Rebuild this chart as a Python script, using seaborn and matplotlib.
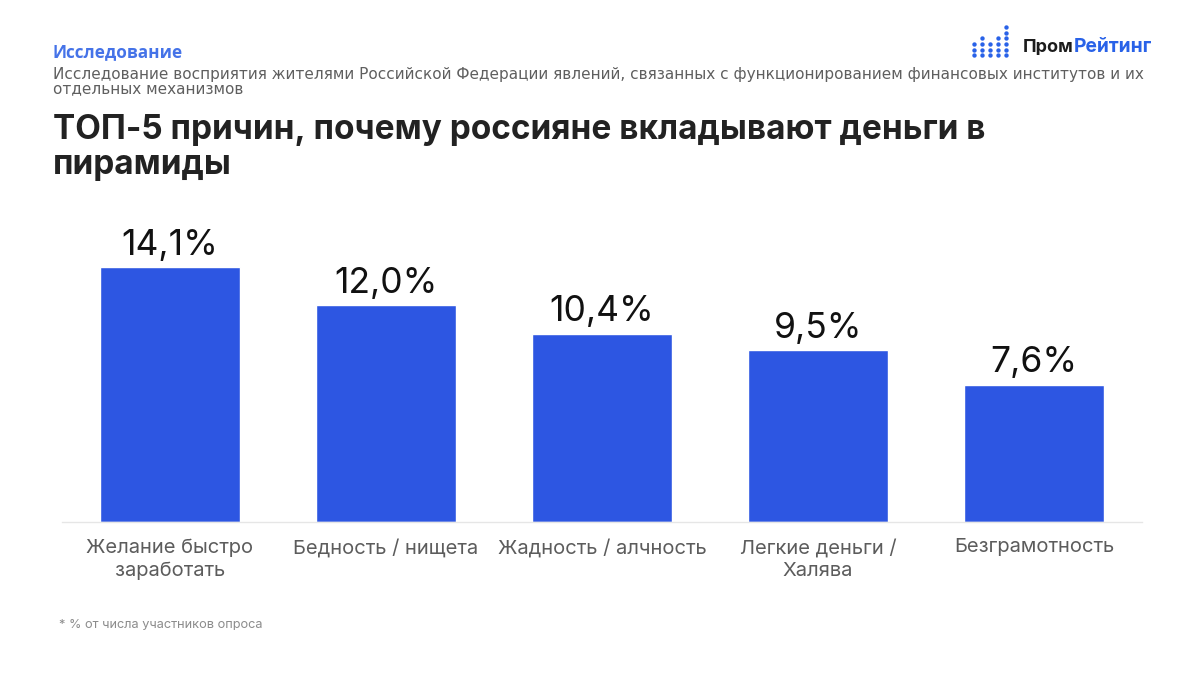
import matplotlib
matplotlib.use("Agg")
import matplotlib.pyplot as plt
import numpy as np
import pandas as pd
import seaborn as sns

categories = ["Желание быстро\nзаработать", "Бедность / нищета", "Жадность / алчность",
              "Легкие деньги /\nХалява", "Безграмотность"]
values = [14.1, 12.0, 10.4, 9.5, 7.6]
value_labels = ["14,1%", "12,0%", "10,4%", "9,5%", "7,6%"]
logo_columns = [3, 4, 3, 4, 6]

sns.set_theme(style="white")
plt.rcParams["font.family"] = ["Inter", "DejaVu Sans"]

W, H = 1200, 675
fig = plt.figure(figsize=(12, 6.75), dpi=100, facecolor="white")
ax = fig.add_axes([62 / W, 1 - 521.6 / H, 1080 / W, 324.6 / H])

df = pd.DataFrame({"cat": categories, "val": values})
sns.barplot(data=df, x="cat", y="val", color="#2D56E2", saturation=1, width=0.645, ax=ax)
ax.set_xlim(-0.5, 4.5)
ax.set_ylim(0, 18)
ax.set_xlabel("")
ax.set_ylabel("")
ax.set_yticks([])
for s in ["top", "left", "right"]:
    ax.spines[s].set_visible(False)
ax.spines["bottom"].set_color("#E6E6E6")
ax.spines["bottom"].set_linewidth(1)
ax.tick_params(axis="x", length=0, pad=12, labelsize=14.5, labelcolor="#5C5C5C")
for t in ax.get_xticklabels():
    t.set_linespacing(1.35)
ax.bar_label(ax.containers[0], labels=value_labels, fontsize=25.5, color="#111111", padding=4)

def txt(x, y, s, **kw):
    fig.text(x / W, 1 - y / H, s, va="baseline", ha=kw.pop("ha", "left"), **kw)

txt(53, 57.5, "Исследование", fontsize=12.3, fontweight="bold", color="#4573E8",
    family=["Open Sans", "DejaVu Sans"])
sub = dict(fontsize=11, color="#5F5F5F", family=["DejaVu Sans"])
txt(53, 79, "Исследование восприятия жителями Российской Федерации явлений, связанных с функционированием финансовых институтов и их", **sub)
txt(53, 93, "отдельных механизмов", **sub)
txt(53, 139, "ТОП-5 причин, почему россияне вкладывают деньги в", fontsize=24, fontweight="bold", color="#222222")
txt(53, 174, "пирамиды", fontsize=24, fontweight="bold", color="#222222")
txt(59, 628, "* % от числа участников опроса", fontsize=9.2, color="#8C8C8C")

# logo
lax = fig.add_axes([970 / W, 1 - 58 / H, 40 / W, 33.6 / H])
lax.set_axis_off()
for i, n in enumerate(logo_columns):
    lax.scatter([i] * n, np.arange(n), s=10, color="#2962E8", linewidths=0, clip_on=False)
lax.set_xlim(-0.5, 4.5)
lax.set_ylim(-0.5, 5.5)
txt(1023, 52, "Пром", fontsize=13, fontweight="bold", color="#1C1C1C")
txt(1074, 52, "Рейтинг", fontsize=13.8, fontweight="bold", color="#2962E8")

fig.savefig("out.png", dpi=100)
